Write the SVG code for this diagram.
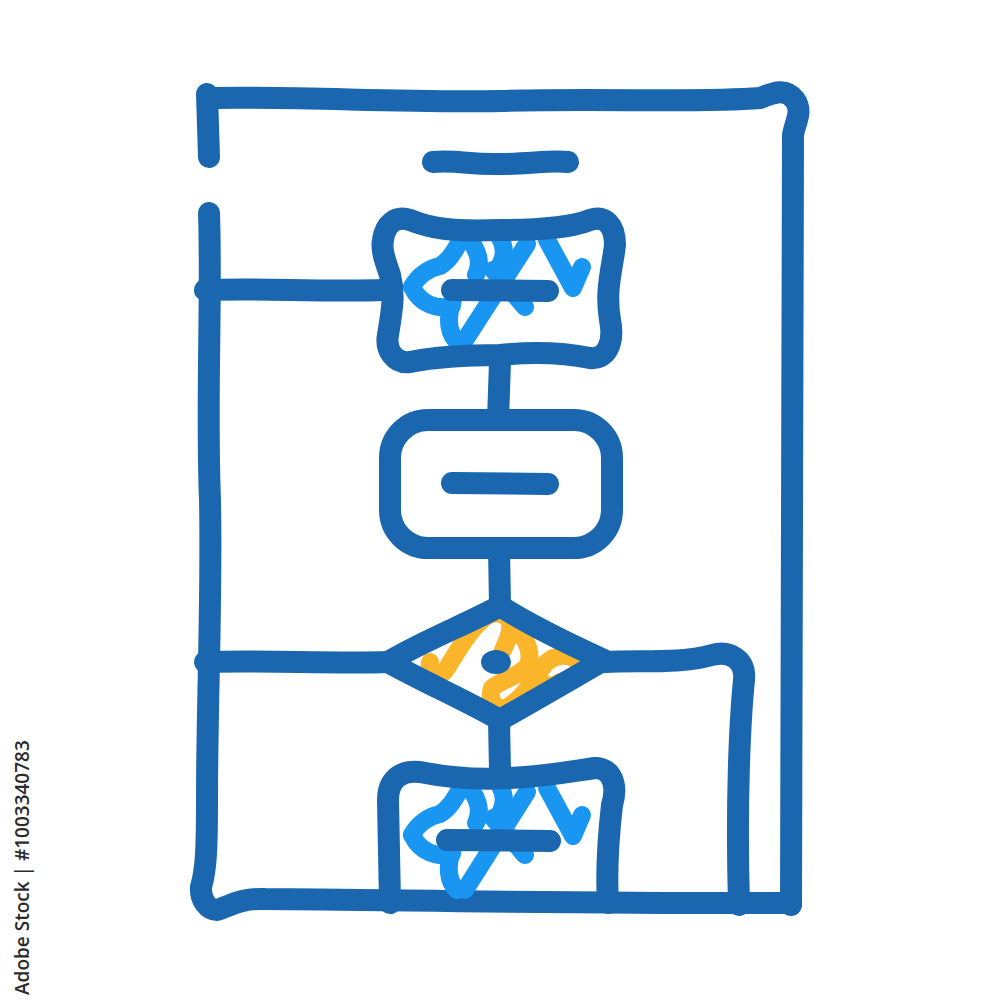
<svg xmlns="http://www.w3.org/2000/svg" width="1000" height="1000" viewBox="0 0 1000 1000">
<style>
.d{fill:none;stroke:#1A67AF;stroke-width:22;stroke-linecap:round;stroke-linejoin:round}
.l{fill:none;stroke:#1896F2;stroke-width:18;stroke-linecap:round;stroke-linejoin:round}
.o{fill:none;stroke:#FBB52B;stroke-width:18;stroke-linecap:round;stroke-linejoin:round}
.cap{font-family:"Open Sans","Liberation Sans",sans-serif;font-size:19px;font-weight:600;fill:#2b2b2b}
</style>
<rect width="1000" height="1000" fill="#fff"/>
<g id="frame">
<path class="d" d="M207,94 L209,157"/>
<path class="d" d="M208,98 C300,96 400,103 500,101 C600,98 700,103 760,98 C775,92 786,88 795,100 C803,112 795,122 793,135 L791,905"/>
<path class="d" d="M209,213 C212,300 206,400 210,500 C212,600 207,700 207,800 C207,850 206,870 201,887 C200,900 208,910 217,910 C230,906 240,898 265,899 C400,900 600,904 791,903"/>
<path class="d" d="M433,162 C460,160 470,165 500,164 C530,164 550,160 568,162"/>
</g>
<g id="connectors">
<path class="d" d="M205,290 C260,288 320,292 385,290"/>
<path class="d" d="M500,362 L498,420"/>
<path class="d" d="M499,548 L500,605"/>
<path class="d" d="M205,662 C270,660 330,664 390,662"/>
<path class="d" d="M605,662 C640,660 680,664 712,655 C730,650 746,660 744,680 C740,720 736,800 739,905"/>
<path class="d" d="M499,720 L500,770"/>
</g>
<g id="box1">
<path class="l" d="M412,287 C418,275 430,268 440,266 C450,260 455,250 462,238"/>
<path class="l" d="M412,287 C420,304 437,310 452,306"/>
<path class="l" d="M500,238 C508,252 502,264 495,272"/>
<path class="l" d="M470,240 C478,252 482,262 476,275"/>
<path class="l" d="M527,244 L463,343"/>
<path class="l" d="M453,300 C446,318 448,336 460,344"/>
<path class="l" d="M547,240 L573,288 L582,267"/>
<path class="l" d="M493,270 L525,307"/>
<path class="d" d="M383,240 C385,225 395,215 410,220 C430,228 450,232 500,230 C540,230 570,228 590,220 C605,215 615,225 615,245 C612,270 605,290 610,320 C615,345 605,360 590,358 C560,352 530,352 500,355 C460,355 430,358 410,362 C395,364 385,350 388,335 C392,310 395,295 390,275 C385,260 381,250 383,240 Z"/>
<path class="d" d="M452,290 L548,291"/>
</g>
<g id="box2">
<rect class="d" x="390" y="420" width="222" height="128" rx="38"/>
<path class="d" d="M452,483 L548,484"/>
</g>
<g id="decision">
<path class="o" d="M430,662 C428,676 440,680 447,668 C458,650 470,630 482,620 C492,610 505,612 510,622 C512,635 505,645 503,650"/>
<path class="o" d="M517,630 C528,640 532,655 528,665 C522,675 505,678 492,688 C488,700 495,710 506,708 C522,700 535,678 545,664 C555,654 572,652 580,664 C583,674 575,680 568,682"/>
<path class="o" d="M532,675 C540,684 550,690 560,682"/>
<path class="d" d="M500,606 C530,625 560,640 604,660 C570,680 535,700 500,720 C465,700 430,685 388,662 C425,640 465,625 500,606 Z"/>
<ellipse cx="496" cy="662" rx="15" ry="12" fill="#1A67AF"/>
</g>
<g id="box3">
<path class="l" d="M412,835 C418,823 430,816 440,814 C450,808 455,798 462,786"/>
<path class="l" d="M412,835 C420,852 437,858 452,854"/>
<path class="l" d="M500,786 C508,800 502,812 495,820"/>
<path class="l" d="M470,788 C478,800 482,810 476,823"/>
<path class="l" d="M527,792 L465,890"/>
<path class="l" d="M453,848 C446,866 448,882 457,890"/>
<path class="l" d="M547,788 L573,836 L582,815"/>
<path class="l" d="M493,818 L525,855"/>
<path class="d" d="M390,903 L388,800 C388,780 400,770 420,772 C450,778 480,780 510,778 C550,776 580,770 595,768 C612,768 618,785 612,805 C608,840 606,870 608,903"/>
<path class="d" d="M447,840 L550,841"/>
</g>
<text class="cap" transform="translate(29,995) rotate(-90)">Adobe Stock | #1003340783</text>
</svg>
